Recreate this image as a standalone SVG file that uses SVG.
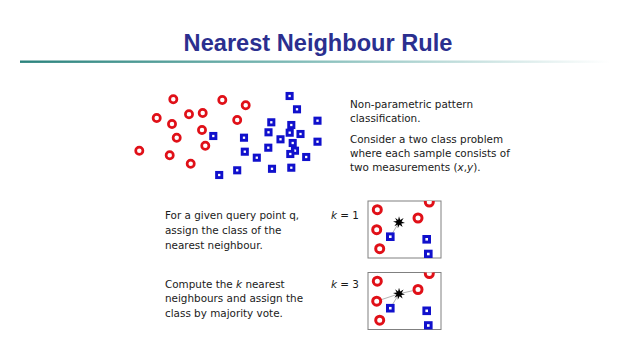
<svg xmlns="http://www.w3.org/2000/svg" xmlns:xlink="http://www.w3.org/1999/xlink" width="638" height="359" viewBox="0 0 638 359">
<style>
.t{font-family:"DejaVu Sans","Liberation Sans",sans-serif;font-size:10.4px;fill:#1a1a1a}
.title{font-family:"Liberation Sans",Arial,sans-serif;font-weight:bold;font-size:23.6px;fill:#2b2f8f}
.rc{fill:#fff;stroke:#e01018;stroke-width:2.7}
.bs{fill:#fff;stroke:#1010cc;stroke-width:2.9}
.box{fill:#fff;stroke:#808080;stroke-width:1}
.nn{stroke:#a0a0a0;stroke-width:0.8;fill:none}
</style>
<defs>
<linearGradient id="lg" x1="20" y1="0" x2="610" y2="0" gradientUnits="userSpaceOnUse">
<stop offset="0" stop-color="#2a827c"/>
<stop offset="0.45" stop-color="#7db9b5"/>
<stop offset="1" stop-color="#ffffff"/>
</linearGradient>
<circle id="c" class="rc" r="3.6"/>
<rect id="s" class="bs" x="-2.6" y="-2.6" width="5.2" height="5.2"/>
<circle id="c2" class="rc" r="4" style="stroke-width:3"/>
<rect id="s2" class="bs" x="-2.8" y="-2.8" width="5.6" height="5.6" style="stroke-width:3"/>
<polygon id="star" fill="#000" points="0,-6 1.2,-2.2 4.6,-4.2 2.6,-0.9 6,0.6 2.3,1.3 3.6,4.8 0.6,2.4 -1.2,6 -1.3,2.3 -4.6,3.9 -2.5,0.6 -6,-0.8 -2.3,-1.2 -3.9,-4.5 -0.9,-2.4"/>
<clipPath id="cb"><rect x="368" y="0" width="73" height="57"/></clipPath>
</defs>
<rect width="638" height="359" fill="#fff"/>
<g id="title">
<text class="title" x="318" y="51" text-anchor="middle">Nearest Neighbour Rule</text>
<rect x="20" y="60.5" width="595" height="2.4" fill="url(#lg)"/>
</g>
<g id="scatter">
<use href="#c" x="173.3" y="99.3"/>
<use href="#c" x="222.3" y="100"/>
<use href="#c" x="245.7" y="105.3"/>
<use href="#c" x="156.7" y="118"/>
<use href="#c" x="189" y="114.3"/>
<use href="#c" x="202.7" y="113"/>
<use href="#c" x="172" y="124"/>
<use href="#c" x="237.2" y="120"/>
<use href="#c" x="202" y="130"/>
<use href="#c" x="176.7" y="137.7"/>
<use href="#c" x="205.3" y="145.7"/>
<use href="#c" x="139.3" y="150.7"/>
<use href="#c" x="169.7" y="155.3"/>
<use href="#c" x="190.7" y="163.7"/>
<use href="#s" x="213.3" y="136"/>
<use href="#s" x="219.2" y="175"/>
<use href="#s" x="237.2" y="170.3"/>
<use href="#s" x="244" y="137.7"/>
<use href="#s" x="244.8" y="151.7"/>
<use href="#s" x="256.8" y="157.7"/>
<use href="#s" x="271.3" y="122.3"/>
<use href="#s" x="268.5" y="132.3"/>
<use href="#s" x="268.3" y="147.7"/>
<use href="#s" x="272" y="168.8"/>
<use href="#s" x="280.5" y="139.3"/>
<use href="#s" x="289.6" y="96"/>
<use href="#s" x="297" y="109.3"/>
<use href="#s" x="291.3" y="125"/>
<use href="#s" x="289.7" y="132.7"/>
<use href="#s" x="300.5" y="134"/>
<use href="#s" x="292.7" y="143"/>
<use href="#s" x="295" y="150.7"/>
<use href="#s" x="290.3" y="154"/>
<use href="#s" x="291.3" y="167.7"/>
<use href="#s" x="306.2" y="157"/>
<use href="#s" x="317.5" y="120.7"/>
<use href="#s" x="317.5" y="141.7"/>
</g>
<g id="desc">
<text class="t" x="350" y="108">Non-parametric pattern</text>
<text class="t" x="350" y="122">classification.</text>
<text class="t" x="350" y="143">Consider a two class problem</text>
<text class="t" x="350" y="157">where each sample consists of</text>
<text class="t" x="350" y="171">two measurements (<tspan font-style="italic">x</tspan>,<tspan font-style="italic">y</tspan>).</text>
</g>
<g id="rule1">
<text class="t" x="165" y="219">For a given query point q,</text>
<text class="t" x="165" y="234">assign the class of the</text>
<text class="t" x="165" y="249">nearest neighbour.</text>
<text class="t" x="331" y="219"><tspan font-style="italic">k</tspan> = 1</text>
</g>
<g id="box1" transform="translate(0,201)">
<rect class="box" x="368" y="0" width="73" height="57"/>
<g clip-path="url(#cb)">
<line class="nn" x1="399" y1="21.3" x2="390.3" y2="35.7"/>
<use href="#c2" x="377.3" y="8.7"/>
<use href="#c2" x="429.3" y="1"/>
<use href="#c2" x="418" y="17"/>
<use href="#c2" x="376.7" y="28.7"/>
<use href="#c2" x="379.7" y="47.7"/>
<use href="#s2" x="390.3" y="35.7"/>
<use href="#s2" x="426.7" y="38.3"/>
<use href="#s2" x="428.3" y="53"/>
<use href="#star" x="399" y="21.3"/>
</g>
</g>
<g id="rule3">
<text class="t" x="165" y="288">Compute the <tspan font-style="italic">k</tspan> nearest</text>
<text class="t" x="165" y="302">neighbours and assign the</text>
<text class="t" x="165" y="317">class by majority vote.</text>
<text class="t" x="331" y="288"><tspan font-style="italic">k</tspan> = 3</text>
</g>
<g id="box3" transform="translate(0,272.5)">
<rect class="box" x="368" y="0" width="73" height="57"/>
<g clip-path="url(#cb)">
<line class="nn" x1="399" y1="21.3" x2="390.3" y2="35.7"/>
<line class="nn" x1="399" y1="21.3" x2="418" y2="17"/>
<line class="nn" x1="399" y1="21.3" x2="376.7" y2="28.7"/>
<use href="#c2" x="377.3" y="8.7"/>
<use href="#c2" x="429.3" y="1"/>
<use href="#c2" x="418" y="17"/>
<use href="#c2" x="376.7" y="28.7"/>
<use href="#c2" x="379.7" y="47.7"/>
<use href="#s2" x="390.3" y="35.7"/>
<use href="#s2" x="426.7" y="38.3"/>
<use href="#s2" x="428.3" y="53"/>
<use href="#star" x="399" y="21.3"/>
</g>
</g>
</svg>
